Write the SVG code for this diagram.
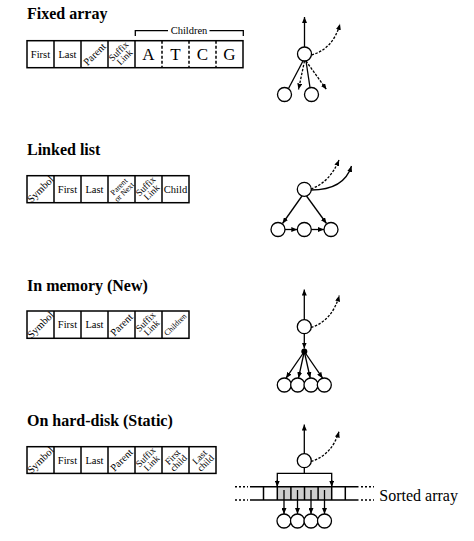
<svg xmlns="http://www.w3.org/2000/svg" width="474" height="541" viewBox="0 0 474 541">
<style>
.h{font-family:"Liberation Serif",serif;font-weight:bold;font-size:16px}
.c{font-family:"Liberation Serif",serif;font-size:10.5px;text-anchor:middle}
.big{font-family:"Liberation Serif",serif;font-size:17px;text-anchor:middle}
.r{font-family:"Liberation Serif",serif;font-size:10.5px;text-anchor:middle}
.r2{font-family:"Liberation Serif",serif;font-size:9.5px;text-anchor:middle}
.r3{font-family:"Liberation Serif",serif;font-size:8px;text-anchor:middle}
.lab{font-family:"Liberation Serif",serif;font-size:16px}
.box{fill:#fff;stroke:#000;stroke-width:1.5}
.dv{stroke:#000;stroke-width:1.5}
.dd{stroke:#000;stroke-width:1.5;stroke-dasharray:3,2}
.ln{stroke:#000;stroke-width:1.3;fill:none}
.ds{stroke:#000;stroke-width:1.3;fill:none;stroke-dasharray:2.5,1.5}
.nd{fill:#fff;stroke:#000;stroke-width:1.3}
</style>
<defs>
<marker id="ah" markerWidth="6" markerHeight="5" refX="6" refY="2.5" orient="auto" markerUnits="userSpaceOnUse">
<path d="M0,0 L6,2.5 L0,5 z" fill="#000"/>
</marker>
</defs>
<rect width="474" height="541" fill="#fff"/>

<!-- Headings -->
<text class="h" x="27" y="18.5">Fixed array</text>
<text class="h" x="27" y="155">Linked list</text>
<text class="h" x="27" y="291">In memory (New)</text>
<text class="h" x="27" y="426">On hard-disk (Static)</text>

<!-- Fixed array record -->
<g id="fixed-array">
<rect class="box" x="27" y="40.7" width="216" height="27"/>
<line class="dv" x1="54" y1="40.7" x2="54" y2="67.7"/>
<line class="dv" x1="81" y1="40.7" x2="81" y2="67.7"/>
<line class="dv" x1="108" y1="40.7" x2="108" y2="67.7"/>
<line class="dv" x1="135" y1="40.7" x2="135" y2="67.7"/>
<line class="dd" x1="162" y1="40.7" x2="162" y2="67.7"/>
<line class="dd" x1="189" y1="40.7" x2="189" y2="67.7"/>
<line class="dd" x1="216" y1="40.7" x2="216" y2="67.7"/>
<text class="c" x="40.5" y="57.7">First</text>
<text class="c" x="67.5" y="57.7">Last</text>
<g transform="translate(94.5,54.2) rotate(-45)"><text class="r" x="0" y="3.5">Parent</text></g>
<g transform="translate(121.5,54.2) rotate(-45)"><text class="r2" x="0" y="-1">Suffix</text><text class="r2" x="0" y="7.5">Link</text></g>
<text class="big" x="148.5" y="60">A</text>
<text class="big" x="175.5" y="60">T</text>
<text class="big" x="202.5" y="60">C</text>
<text class="big" x="229.5" y="60">G</text>
<path class="ln" d="M135.3,36 V30.7 H168 M209.5,30.7 H243.3 V36" stroke-width="1"/>
<text class="c" x="189" y="34" font-size="10">Children</text>
</g>

<!-- Linked list record -->
<g id="linked-list">
<rect class="box" x="27" y="175.7" width="162" height="27"/>
<line class="dv" x1="54" y1="175.7" x2="54" y2="202.7"/>
<line class="dv" x1="81" y1="175.7" x2="81" y2="202.7"/>
<line class="dv" x1="108" y1="175.7" x2="108" y2="202.7"/>
<line class="dv" x1="135" y1="175.7" x2="135" y2="202.7"/>
<line class="dv" x1="162" y1="175.7" x2="162" y2="202.7"/>
<g transform="translate(40.5,189.2) rotate(-45)"><text class="r" x="0" y="3.5">Symbol</text></g>
<text class="c" x="67.5" y="192.7">First</text>
<text class="c" x="94.5" y="192.7">Last</text>
<g transform="translate(121.5,189.2) rotate(-45)"><text class="r3" x="0" y="-1">Parent</text><text class="r3" x="0" y="6.5">or Next</text></g>
<g transform="translate(148.5,189.2) rotate(-45)"><text class="r2" x="0" y="-1">Suffix</text><text class="r2" x="0" y="7.5">Link</text></g>
<text class="c" x="175.5" y="192.7">Child</text>
</g>

<!-- In memory record -->
<g id="in-memory">
<rect class="box" x="27" y="311" width="162" height="27.3"/>
<line class="dv" x1="54" y1="311" x2="54" y2="338.3"/>
<line class="dv" x1="81" y1="311" x2="81" y2="338.3"/>
<line class="dv" x1="108" y1="311" x2="108" y2="338.3"/>
<line class="dv" x1="135" y1="311" x2="135" y2="338.3"/>
<line class="dv" x1="162" y1="311" x2="162" y2="338.3"/>
<g transform="translate(40.5,324.7) rotate(-45)"><text class="r" x="0" y="3.5">Symbol</text></g>
<text class="c" x="67.5" y="328.2">First</text>
<text class="c" x="94.5" y="328.2">Last</text>
<g transform="translate(121.5,324.7) rotate(-45)"><text class="r" x="0" y="3.5">Parent</text></g>
<g transform="translate(148.5,324.7) rotate(-45)"><text class="r2" x="0" y="-1">Suffix</text><text class="r2" x="0" y="7.5">Link</text></g>
<g transform="translate(175.5,324.7) rotate(-45)"><text class="r3" x="0" y="2.5">Children</text></g>
</g>

<!-- On hard-disk record -->
<g id="hard-disk">
<rect class="box" x="27" y="446.7" width="189" height="26.7"/>
<line class="dv" x1="54" y1="446.7" x2="54" y2="473.4"/>
<line class="dv" x1="81" y1="446.7" x2="81" y2="473.4"/>
<line class="dv" x1="108" y1="446.7" x2="108" y2="473.4"/>
<line class="dv" x1="135" y1="446.7" x2="135" y2="473.4"/>
<line class="dv" x1="162" y1="446.7" x2="162" y2="473.4"/>
<line class="dv" x1="189" y1="446.7" x2="189" y2="473.4"/>
<g transform="translate(40.5,460) rotate(-45)"><text class="r" x="0" y="3.5">Symbol</text></g>
<text class="c" x="67.5" y="463.5">First</text>
<text class="c" x="94.5" y="463.5">Last</text>
<g transform="translate(121.5,460) rotate(-45)"><text class="r" x="0" y="3.5">Parent</text></g>
<g transform="translate(148.5,460) rotate(-45)"><text class="r2" x="0" y="-1">Suffix</text><text class="r2" x="0" y="7.5">Link</text></g>
<g transform="translate(175.5,460) rotate(-45)"><text class="r2" x="0" y="-1">First</text><text class="r2" x="0" y="7.5">child</text></g>
<g transform="translate(202.5,460) rotate(-45)"><text class="r2" x="0" y="-1">Last</text><text class="r2" x="0" y="7.5">child</text></g>
</g>

<!-- Sorted array -->
<g id="sorted-array">
<rect x="277.3" y="486.7" width="54.4" height="13.3" fill="#cfcfcf"/>
<line class="dv" x1="250" y1="486.7" x2="358.5" y2="486.7"/>
<line class="dv" x1="250" y1="500" x2="358.5" y2="500"/>
<line class="dv" x1="263.5" y1="486.7" x2="263.5" y2="500"/>
<line class="dv" x1="277.3" y1="486.7" x2="277.3" y2="500"/>
<line class="dv" x1="290.9" y1="486.7" x2="290.9" y2="500"/>
<line class="dv" x1="304.5" y1="486.7" x2="304.5" y2="500"/>
<line class="dv" x1="318.1" y1="486.7" x2="318.1" y2="500"/>
<line class="dv" x1="331.7" y1="486.7" x2="331.7" y2="500"/>
<line class="dv" x1="345.3" y1="486.7" x2="345.3" y2="500"/>
<path d="M235,486.7 H248 M235,500 H248 M361,486.7 H374 M361,500 H374" stroke="#000" stroke-width="1.5" stroke-dasharray="2,2"/>
<text class="lab" x="379.3" y="500.7">Sorted array</text>
</g>

<!-- Nodes -->
<g id="fa-node"><circle class="nd" cx="304.5" cy="54" r="7"/></g>
<g id="fa-child1"><circle class="nd" cx="284.5" cy="94.5" r="7"/></g>
<g id="fa-child2"><circle class="nd" cx="311.5" cy="94.5" r="7"/></g>

<g id="ll-node"><circle class="nd" cx="304.3" cy="189.3" r="7"/></g>
<g id="ll-child1"><circle class="nd" cx="278" cy="229.5" r="7"/></g>
<g id="ll-child2"><circle class="nd" cx="304.3" cy="229.5" r="7"/></g>
<g id="ll-child3"><circle class="nd" cx="331" cy="229.5" r="7"/></g>

<g id="im-node"><circle class="nd" cx="304.3" cy="326.7" r="7"/></g>
<g id="im-tree"><circle cx="304.3" cy="351.5" r="3" fill="#000"/></g>
<g id="im-child1"><circle class="nd" cx="284.3" cy="385" r="7"/></g>
<g id="im-child2"><circle class="nd" cx="297.7" cy="385" r="7"/></g>
<g id="im-child3"><circle class="nd" cx="311" cy="385" r="7"/></g>
<g id="im-child4"><circle class="nd" cx="324.3" cy="385" r="7"/></g>

<g id="hd-node"><circle class="nd" cx="304.3" cy="460.7" r="7"/></g>
<g id="hd-child1"><circle class="nd" cx="284" cy="521" r="7"/></g>
<g id="hd-child2"><circle class="nd" cx="297.5" cy="521" r="7"/></g>
<g id="hd-child3"><circle class="nd" cx="311" cy="521" r="7"/></g>
<g id="hd-child4"><circle class="nd" cx="324.5" cy="521" r="7"/></g>

<!-- Connectors -->
<g id="connectors">
<!-- fixed array -->
<line class="ln" x1="304.5" y1="47" x2="304.5" y2="17" marker-end="url(#ah)"/>
<path class="ds" d="M311.5,55 Q333,49 340,24" marker-end="url(#ah)"/>
<line class="ln" x1="303" y1="61" x2="288.5" y2="88.5"/>
<line class="ln" x1="306" y1="61" x2="310" y2="87.5"/>
<line class="ds" x1="304.5" y1="61" x2="298.5" y2="89.5" marker-end="url(#ah)"/>
<line class="ds" x1="306" y1="61" x2="326.5" y2="89.5" marker-end="url(#ah)"/>
<!-- linked list -->
<path class="ds" d="M311,189 Q330,182 339,160" marker-end="url(#ah)"/>
<path class="ln" d="M311,190 Q344,190 351.5,166" marker-end="url(#ah)"/>
<line class="ln" x1="302" y1="196" x2="282.5" y2="223.5" marker-end="url(#ah)"/>
<line class="ln" x1="306.5" y1="196" x2="326.5" y2="223.5" marker-end="url(#ah)"/>
<line class="ln" x1="285" y1="229.5" x2="297.3" y2="229.5" marker-end="url(#ah)"/>
<line class="ln" x1="311.3" y1="229.5" x2="324" y2="229.5" marker-end="url(#ah)"/>
<!-- in memory -->
<line class="ln" x1="304.3" y1="319.7" x2="304.3" y2="289.5" marker-end="url(#ah)"/>
<path class="ds" d="M311,327.5 Q332,321 339.3,295.5" marker-end="url(#ah)"/>
<line class="ln" x1="304.3" y1="333.7" x2="304.3" y2="348.5" marker-end="url(#ah)"/>
<line class="ln" x1="304.3" y1="351.5" x2="286" y2="378.2" marker-end="url(#ah)"/>
<line class="ln" x1="304.3" y1="351.5" x2="298.5" y2="378" marker-end="url(#ah)"/>
<line class="ln" x1="304.3" y1="351.5" x2="310.2" y2="378" marker-end="url(#ah)"/>
<line class="ln" x1="304.3" y1="351.5" x2="322.6" y2="378.2" marker-end="url(#ah)"/>
<!-- hard disk -->
<line class="ln" x1="304.3" y1="453.7" x2="304.3" y2="424.5" marker-end="url(#ah)"/>
<path class="ds" d="M311,461.5 Q332,455 339,431.5" marker-end="url(#ah)"/>
<path class="ln" d="M304.3,467.7 V473.3 M277.3,486 V473.3 H331.7 V486"/>
<line class="ln" x1="277.3" y1="480" x2="277.3" y2="486.7" marker-end="url(#ah)"/>
<line class="ln" x1="331.7" y1="480" x2="331.7" y2="486.7" marker-end="url(#ah)"/>
<line class="ln" x1="284" y1="490" x2="284" y2="514" marker-end="url(#ah)"/>
<line class="ln" x1="297.5" y1="490" x2="297.5" y2="514" marker-end="url(#ah)"/>
<line class="ln" x1="311" y1="490" x2="311" y2="514" marker-end="url(#ah)"/>
<line class="ln" x1="324.5" y1="490" x2="324.5" y2="514" marker-end="url(#ah)"/>
</g>
</svg>
